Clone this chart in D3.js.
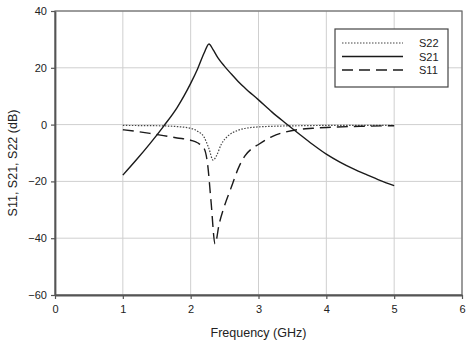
<!DOCTYPE html>
<html>
<head>
<meta charset="utf-8">
<script src="https://cdn.jsdelivr.net/npm/d3@7"></script>
<style>
  html, body { margin: 0; padding: 0; background: #fff; }
  svg { display: block; font-family: "Liberation Sans", Arial, sans-serif; }
</style>
</head>
<body>
<svg id="chart" width="474" height="345"></svg>
<script>
// Measured S-parameters (dB) versus frequency (GHz)
const freqS21 = [1.0, 1.2, 1.4, 1.6, 1.8, 1.9, 2.0, 2.1, 2.2, 2.27, 2.33, 2.4, 2.5, 2.6, 2.7, 2.8, 3.0, 3.2, 3.4, 3.6, 3.8, 4.0, 4.2, 4.4, 4.6, 4.8, 5.0];
const s21 =     [-17.8, -12.4, -6.7, -0.6, 6.0, 10.0, 14.5, 19.5, 25.3, 28.4, 26.4, 23.6, 20.5, 17.8, 15.2, 12.9, 8.7, 4.4, 0.5, -3.3, -7.0, -10.4, -13.2, -15.6, -17.7, -19.7, -21.5];

const freqS22 = [1.0, 1.5, 1.8, 2.0, 2.1, 2.2, 2.27, 2.33, 2.38, 2.45, 2.55, 2.7, 2.9, 3.2, 3.6, 4.0, 4.5, 5.0];
const s22 =     [-0.3, -0.4, -0.7, -1.3, -2.3, -4.5, -8.5, -12.5, -11.0, -7.0, -4.0, -2.0, -1.0, -0.6, -0.4, -0.3, -0.3, -0.3];

const freqS11 = [1.0, 1.2, 1.4, 1.6, 1.8, 2.0, 2.1, 2.2, 2.25, 2.3, 2.36, 2.42, 2.5, 2.6, 2.7, 2.8, 2.9, 3.0, 3.2, 3.4, 3.6, 3.8, 4.0, 4.5, 5.0];
const s11 =     [-1.8, -2.4, -3.1, -3.9, -4.7, -5.5, -6.4, -8.5, -14.0, -27.0, -42.0, -35.0, -28.5, -22.0, -15.5, -11.0, -8.5, -7.0, -4.2, -2.6, -1.7, -1.3, -1.0, -0.6, -0.4];

const xTicks = [0, 1, 2, 3, 4, 5, 6];
const yTicks = [-60, -40, -20, 0, 20, 40];

const legendLabels = ["S22", "S21", "S11"];

const svg = d3.select("#chart");
const plot = { left: 55, right: 462, top: 11, bottom: 295 };

const x = d3.scaleLinear().domain([0, 6]).range([plot.left, plot.right]);
const y = d3.scaleLinear().domain([-60, 40]).range([plot.bottom, plot.top]);

// Grid lines
svg.append("g").selectAll("line.vg").data(xTicks).join("line")
  .attr("x1", d => x(d)).attr("x2", d => x(d))
  .attr("y1", plot.top).attr("y2", plot.bottom)
  .attr("stroke", "#cfcfcf").attr("stroke-width", 1);
svg.append("g").selectAll("line.hg").data(yTicks).join("line")
  .attr("x1", plot.left).attr("x2", plot.right)
  .attr("y1", d => y(d)).attr("y2", d => y(d))
  .attr("stroke", "#cfcfcf").attr("stroke-width", 1);

// Frame
svg.append("rect")
  .attr("x", plot.left).attr("y", plot.top)
  .attr("width", plot.right - plot.left).attr("height", plot.bottom - plot.top)
  .attr("fill", "none").attr("stroke", "#6a6a6a").attr("stroke-width", 1.2);

// Axes
const xAxis = svg.append("g")
  .attr("transform", `translate(0,${plot.bottom})`)
  .call(d3.axisBottom(x).tickValues(xTicks).tickFormat(d3.format("d")).tickSizeInner(4).tickSizeOuter(0).tickPadding(6));
const yAxis = svg.append("g")
  .attr("transform", `translate(${plot.left},0)`)
  .call(d3.axisLeft(y).tickValues(yTicks).tickFormat(d3.format("d")).tickSizeInner(4).tickSizeOuter(0).tickPadding(4));

[xAxis, yAxis].forEach(g => {
  g.select(".domain").attr("stroke", "#555").attr("stroke-width", 1.8);
  g.selectAll(".tick line").attr("stroke", "#555").attr("stroke-width", 1.2);
  g.selectAll(".tick text").attr("fill", "#222").attr("font-size", 11)
    .attr("font-family", "'Liberation Sans', Arial, sans-serif");
});

// Axis titles
svg.append("text")
  .attr("x", x(3)).attr("y", 337)
  .attr("text-anchor", "middle")
  .attr("font-size", 12.5).attr("fill", "#222")
  .text("Frequency (GHz)");
svg.append("text")
  .attr("transform", `translate(17,${(plot.top + plot.bottom) / 2 + 10}) rotate(-90)`)
  .attr("text-anchor", "middle")
  .attr("font-size", 12.5).attr("fill", "#222")
  .text("S11, S21, S22 (dB)");

// Curves
const line = d3.line().x(d => x(d[0])).y(d => y(d[1])).curve(d3.curveMonotoneX);
const series = [
  { f: freqS22, v: s22, dash: "1.5,1.5", color: "#444", width: 1.2 },
  { f: freqS21, v: s21, dash: null, color: "#1a1a1a", width: 1.4 },
  { f: freqS11, v: s11, dash: "11,6", color: "#1a1a1a", width: 1.4 }
];
series.forEach(s => {
  svg.append("path")
    .datum(d3.zip(s.f, s.v))
    .attr("d", line)
    .attr("fill", "none")
    .attr("stroke", s.color)
    .attr("stroke-width", s.width)
    .attr("stroke-dasharray", s.dash);
});

// Legend
const legend = svg.append("g");
legend.append("rect")
  .attr("x", 335).attr("y", 29).attr("width", 113).attr("height", 58)
  .attr("fill", "#fff").attr("stroke", "#444").attr("stroke-width", 1.2);
const rows = legend.selectAll("g.row").data(series).join("g")
  .attr("transform", (d, i) => `translate(0,${43 + i * 13.5})`);
rows.append("line")
  .attr("x1", 342).attr("x2", 403).attr("y1", 0).attr("y2", 0)
  .attr("stroke", d => d.color).attr("stroke-width", d => d.width)
  .attr("stroke-dasharray", d => d.dash);
rows.append("text")
  .attr("x", 419).attr("y", 4)
  .attr("font-size", 11).attr("fill", "#222")
  .text((d, i) => legendLabels[i]);
</script>
</body>
</html>
